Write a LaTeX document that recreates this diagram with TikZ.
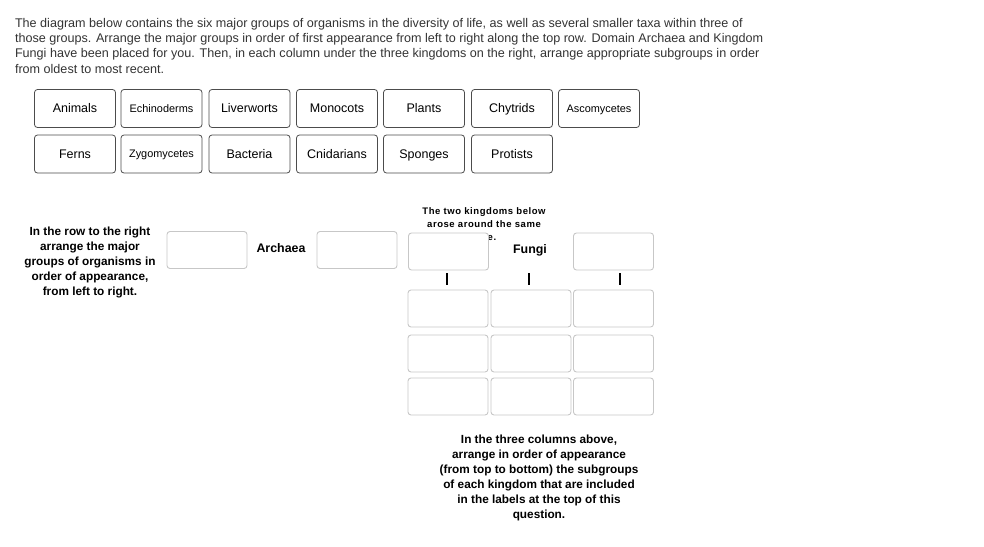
\documentclass[tikz,border=0pt]{standalone}
\usepackage{fontspec}
\setmainfont{Liberation Sans}
\begin{document}
\begin{tikzpicture}[x=1pt,y=-1pt,
  every node/.style={inner sep=0pt, outer sep=0pt},
  intro/.style={anchor=base west, text=black!80, font=\fontsize{12.6}{14}\selectfont},
  label/.style={draw=black!70, line width=0.8pt, rounded corners=3pt, minimum width=81pt, minimum height=38pt, fill=white, font=\fontsize{12.5}{14}\selectfont, text height=10pt, text depth=1.6pt},
  smalllabel/.style={label, font=\fontsize{10.9}{12}\selectfont, text height=9pt, text depth=1.3pt},
  slot/.style={draw=black!22, line width=0.9pt, rounded corners=3pt, minimum width=80pt, minimum height=37pt, fill=white},
  instr/.style={align=center, font=\bfseries\fontsize{11.8}{15}\selectfont},
  kingdom/.style={font=\bfseries\fontsize{12.4}{14}\selectfont, text height=10pt, text depth=1.6pt},
  bar/.style={line width=1.8pt}
]
\useasboundingbox (0,0) rectangle (984,546);
% intro text
\node[intro] (l1) at (15,27.3) {The diagram below contains the six major groups of organisms in the diversity of life, as well as several smaller taxa within three of};
\node[intro] (l2) at (15,42.6) {those groups. Arrange the major groups in order of first appearance from left to right along the top row. Domain Archaea and Kingdom};
\node[intro] (l3) at (15,57.9) {Fungi have been placed for you. Then, in each column under the three kingdoms on the right, arrange appropriate subgroups in order};
\node[intro] (l4) at (15,73.2) {from oldest to most recent.};
% label boxes row 1
\node[label] (animals) at (75,108.5) {Animals};
\node[smalllabel] (echino) at (161.5,108.5) {Echinoderms};
\node[label] (liver) at (249.5,108.5) {Liverworts};
\node[label] (mono) at (337,108.5) {Monocots};
\node[label] (plants) at (424,108.5) {Plants};
\node[label] (chy) at (512,108.5) {Chytrids};
\node[smalllabel] (asco) at (599,108.5) {Ascomycetes};
% row 2
\node[label] (ferns) at (75,154) {Ferns};
\node[smalllabel] (zygo) at (161.5,154) {Zygomycetes};
\node[label] (bact) at (249.5,154) {Bacteria};
\node[label] (cnid) at (337,154) {Cnidarians};
\node[label] (spong) at (424,154) {Sponges};
\node[label] (prot) at (512,154) {Protists};
% left instructions
\node[instr] (rowinstr) at (90,262) {In the row to the right\\arrange the major\\groups of organisms in\\order of appearance,\\from left to right.};
% top row slots
\node[slot] (s1) at (207,250) {};
\node[kingdom] (archaea) at (281,248.5) {Archaea};
\node[slot] (s2) at (357,250) {};
% two kingdoms note
\node[align=center, font=\bfseries\fontsize{9.5}{13}\selectfont\addfontfeature{LetterSpace=6}] (note) at (484,224.5) {The two kingdoms below\\arose around the same\\time.};
\node[slot] (s3) at (448.5,251.5) {};
\node[kingdom] (fungi) at (530,249) {Fungi};
\node[slot] (s4) at (613.5,251.5) {};
% bars
\coordinate (b1t) at (447,273); \coordinate (b1b) at (447,284.5);
\coordinate (b2t) at (529,273); \coordinate (b2b) at (529,284.5);
\coordinate (b3t) at (620,273); \coordinate (b3b) at (620,284.5);
\draw[bar] (b1t) -- (b1b);
\draw[bar] (b2t) -- (b2b);
\draw[bar] (b3t) -- (b3b);
% grid
\node[slot] (g11) at (448,308.5) {};
\node[slot] (g12) at (531,308.5) {};
\node[slot] (g13) at (613.5,308.5) {};
\node[slot] (g21) at (448,353.5) {};
\node[slot] (g22) at (531,353.5) {};
\node[slot] (g23) at (613.5,353.5) {};
\node[slot] (g31) at (448,396.5) {};
\node[slot] (g32) at (531,396.5) {};
\node[slot] (g33) at (613.5,396.5) {};
% bottom instructions
\node[instr] (colinstr) at (539,478) {In the three columns above,\\arrange in order of appearance\\(from top to bottom) the subgroups\\of each kingdom that are included\\in the labels at the top of this\\question.};
\end{tikzpicture}
\end{document}
